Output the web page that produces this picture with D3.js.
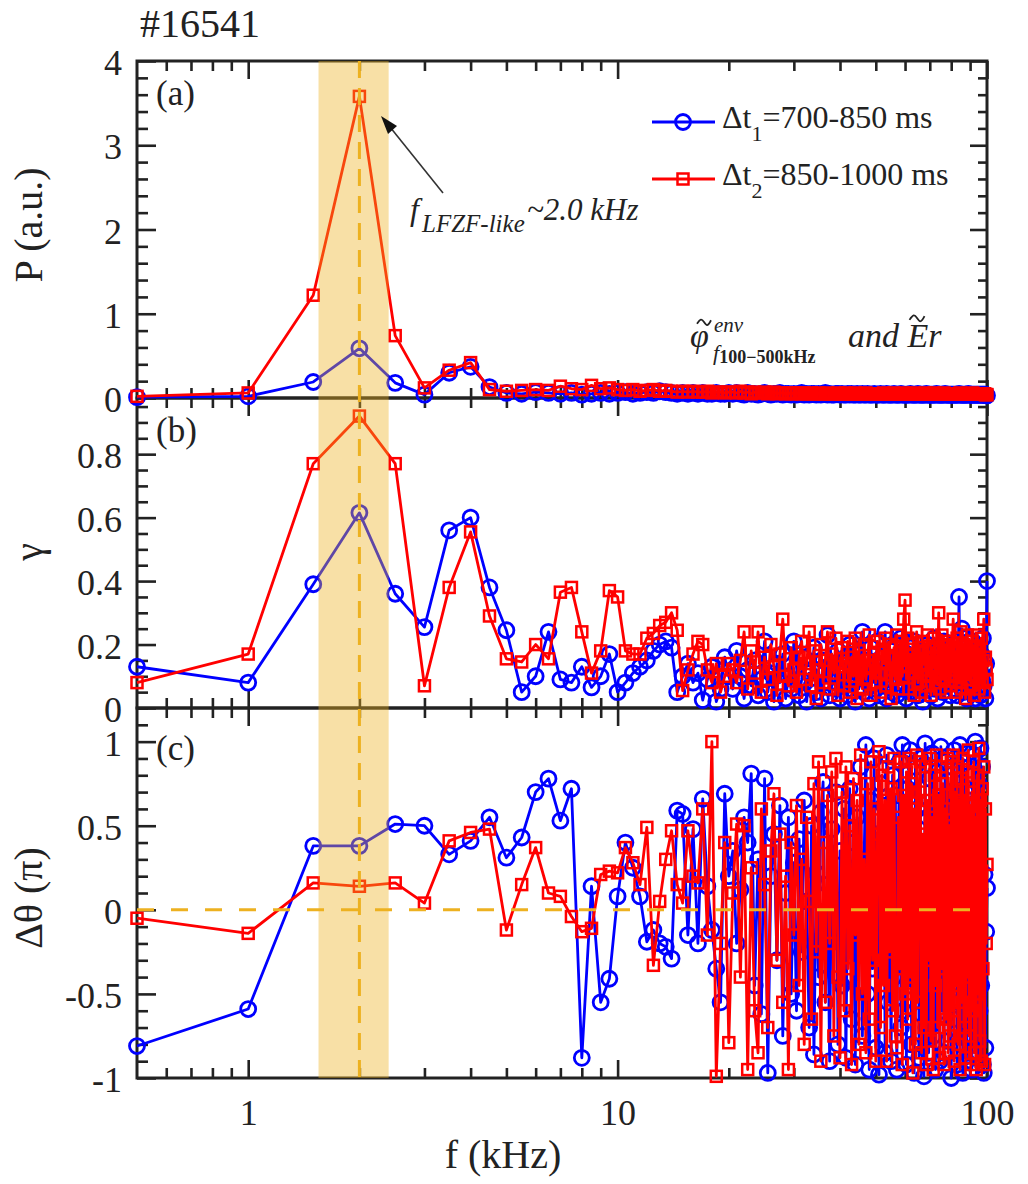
<!DOCTYPE html>
<html>
<head>
<meta charset="utf-8">
<script src="https://cdn.jsdelivr.net/npm/d3@7"></script>
</head>
<body style="margin:0">
<div id="chart"></div>
<script>
// frequency grid (kHz)
const freq = [
0.5,1,1.5,2,2.5,3,3.5,4,4.5,5,5.5,6,6.5,7,7.5,8,8.5,9,9.5,10,
10.5,11,11.5,12,12.5,13,13.5,14,14.5,15,15.5,16,16.5,17,17.5,18,18.5,19,19.5,20,
20.5,21,21.5,22,22.5,23,23.5,24,24.5,25,25.5,26,26.5,27,27.5,28,28.5,29,29.5,30,
30.5,31,31.5,32,32.5,33,33.5,34,34.5,35,35.5,36,36.5,37,37.5,38,38.5,39,39.5,40,
40.5,41,41.5,42,42.5,43,43.5,44,44.5,45,45.5,46,46.5,47,47.5,48,48.5,49,49.5,50,
50.5,51,51.5,52,52.5,53,53.5,54,54.5,55,55.5,56,56.5,57,57.5,58,58.5,59,59.5,60,
60.5,61,61.5,62,62.5,63,63.5,64,64.5,65,65.5,66,66.5,67,67.5,68,68.5,69,69.5,70,
70.5,71,71.5,72,72.5,73,73.5,74,74.5,75,75.5,76,76.5,77,77.5,78,78.5,79,79.5,80,
80.5,81,81.5,82,82.5,83,83.5,84,84.5,85,85.5,86,86.5,87,87.5,88,88.5,89,89.5,90,
90.5,91,91.5,92,92.5,93,93.5,94,94.5,95,95.5,96,96.5,97,97.5,98,98.5,99,99.5,100];

// (a) power, dt1 (blue) and dt2 (red)
const pBlue = [
0.01,0.02,0.19,0.59,0.18,0.04,0.30,0.37,0.13,0.06,0.05,0.07,0.06,0.05,0.06,0.04,0.05,0.06,0.05,0.06,
0.07,0.05,0.06,0.07,0.06,0.08,0.07,0.06,0.05,0.06,0.05,0.06,0.05,0.06,0.05,0.05,0.06,0.05,0.05,0.06,
0.05,0.06,0.05,0.04,0.06,0.05,0.05,0.04,0.05,0.06,0.05,0.04,0.05,0.05,0.06,0.04,0.05,0.05,0.04,0.05,
0.04,0.05,0.06,0.04,0.05,0.04,0.05,0.05,0.04,0.05,0.04,0.05,0.06,0.04,0.05,0.04,0.04,0.05,0.05,0.04,
0.05,0.04,0.04,0.05,0.04,0.05,0.04,0.04,0.05,0.04,0.04,0.05,0.04,0.04,0.05,0.04,0.04,0.04,0.05,0.04,
0.04,0.04,0.05,0.04,0.04,0.04,0.05,0.04,0.04,0.04,0.04,0.05,0.04,0.04,0.04,0.04,0.05,0.04,0.04,0.04,
0.04,0.04,0.04,0.05,0.04,0.04,0.04,0.04,0.04,0.05,0.04,0.04,0.04,0.04,0.04,0.04,0.05,0.04,0.04,0.04,
0.04,0.04,0.04,0.04,0.04,0.05,0.04,0.04,0.04,0.04,0.04,0.04,0.04,0.05,0.04,0.04,0.04,0.04,0.04,0.04,
0.04,0.04,0.04,0.04,0.04,0.04,0.04,0.05,0.04,0.04,0.04,0.04,0.04,0.04,0.04,0.04,0.04,0.05,0.04,0.04,
0.04,0.04,0.04,0.04,0.04,0.04,0.04,0.04,0.04,0.04,0.04,0.04,0.04,0.04,0.04,0.04,0.04,0.04,0.03,0.03];
const pRed = [
0.02,0.06,1.22,3.58,0.74,0.12,0.33,0.42,0.10,0.08,0.09,0.10,0.09,0.14,0.11,0.10,0.15,0.11,0.12,0.10,
0.09,0.10,0.08,0.09,0.10,0.08,0.09,0.08,0.07,0.08,0.07,0.08,0.07,0.07,0.08,0.06,0.07,0.07,0.06,0.07,
0.07,0.06,0.08,0.06,0.07,0.05,0.07,0.06,0.06,0.07,0.05,0.06,0.07,0.05,0.06,0.06,0.05,0.06,0.05,0.06,
0.05,0.06,0.05,0.06,0.05,0.05,0.06,0.05,0.05,0.06,0.05,0.05,0.05,0.06,0.05,0.05,0.05,0.05,0.06,0.05,
0.05,0.05,0.06,0.05,0.05,0.05,0.05,0.06,0.05,0.05,0.05,0.05,0.05,0.06,0.05,0.05,0.05,0.05,0.05,0.05,
0.05,0.05,0.05,0.05,0.06,0.05,0.05,0.05,0.05,0.05,0.05,0.06,0.05,0.05,0.05,0.05,0.05,0.05,0.05,0.06,
0.05,0.05,0.05,0.05,0.05,0.05,0.06,0.05,0.05,0.05,0.05,0.05,0.05,0.05,0.05,0.06,0.05,0.05,0.05,0.05,
0.05,0.05,0.05,0.06,0.05,0.05,0.05,0.05,0.05,0.05,0.05,0.05,0.06,0.05,0.05,0.05,0.05,0.05,0.05,0.05,
0.05,0.05,0.05,0.05,0.05,0.05,0.05,0.05,0.06,0.05,0.05,0.05,0.05,0.05,0.05,0.05,0.05,0.05,0.05,0.05,
0.05,0.05,0.06,0.05,0.05,0.05,0.05,0.05,0.05,0.05,0.05,0.05,0.05,0.05,0.05,0.05,0.05,0.04,0.04,0.04];

// (b) coherence gamma
const gBlue = [
0.13,0.08,0.39,0.615,0.36,0.255,0.56,0.60,0.38,0.245,0.05,0.10,0.24,0.09,0.08,0.13,0.065,0.10,0.17,0.05,
0.08,0.11,0.13,0.15,0.18,0.20,0.21,0.19,0.05,0.10,0.14,0.08,0.11,0.025,0.09,0.13,0.02,0.06,0.16,0.10,
0.06,0.18,0.10,0.03,0.12,0.07,0.15,0.04,0.09,0.21,0.05,0.11,0.02,0.14,0.08,0.17,0.03,0.10,0.06,0.21,
0.13,0.04,0.09,0.16,0.02,0.11,0.07,0.19,0.05,0.12,0.03,0.15,0.08,0.23,0.04,0.10,0.14,0.06,0.18,0.03,
0.11,0.07,0.16,0.04,0.20,0.09,0.13,0.02,0.17,0.06,0.12,0.24,0.05,0.10,0.15,0.03,0.19,0.08,0.14,0.06,
0.21,0.04,0.11,0.16,0.07,0.24,0.03,0.13,0.09,0.18,0.05,0.12,0.20,0.04,0.15,0.08,0.22,0.06,0.11,0.17,
0.03,0.14,0.09,0.19,0.05,0.12,0.21,0.07,0.16,0.04,0.13,0.08,0.18,0.02,0.11,0.15,0.06,0.20,0.09,0.13,
0.04,0.17,0.10,0.22,0.06,0.14,0.03,0.19,0.08,0.12,0.16,0.05,0.21,0.09,0.14,0.07,0.18,0.11,0.04,0.15,
0.09,0.20,0.06,0.13,0.17,0.04,0.11,0.35,0.08,0.19,0.25,0.05,0.14,0.10,0.22,0.03,0.16,0.12,0.07,0.18,
0.05,0.13,0.21,0.08,0.16,0.03,0.12,0.19,0.06,0.14,0.10,0.04,0.17,0.09,0.22,0.07,0.13,0.03,0.14,0.40];
const gRed = [
0.08,0.17,0.77,0.92,0.77,0.07,0.38,0.555,0.29,0.155,0.145,0.20,0.155,0.365,0.38,0.24,0.11,0.18,0.37,0.35,
0.18,0.17,0.17,0.22,0.235,0.26,0.27,0.30,0.245,0.055,0.12,0.17,0.21,0.20,0.12,0.08,0.14,0.05,0.10,0.14,
0.12,0.08,0.15,0.24,0.06,0.18,0.11,0.24,0.05,0.16,0.09,0.20,0.13,0.04,0.17,0.28,0.10,0.07,0.19,0.12,
0.05,0.16,0.21,0.09,0.14,0.24,0.07,0.18,0.03,0.12,0.20,0.08,0.15,0.24,0.06,0.17,0.11,0.22,0.04,0.13,
0.19,0.07,0.14,0.21,0.05,0.16,0.10,0.22,0.03,0.18,0.12,0.06,0.20,0.09,0.15,0.23,0.04,0.13,0.17,0.08,
0.21,0.11,0.05,0.18,0.14,0.22,0.07,0.16,0.20,0.03,0.12,0.19,0.09,0.23,0.06,0.15,0.21,0.10,0.28,0.34,
0.13,0.22,0.06,0.17,0.11,0.20,0.04,0.15,0.24,0.08,0.19,0.12,0.05,0.21,0.14,0.18,0.07,0.23,0.10,0.16,
0.04,0.19,0.13,0.22,0.08,0.16,0.11,0.30,0.06,0.18,0.23,0.09,0.14,0.20,0.05,0.17,0.12,0.21,0.07,0.15,
0.19,0.28,0.10,0.16,0.05,0.22,0.13,0.08,0.18,0.24,0.06,0.15,0.20,0.11,0.03,0.17,0.23,0.09,0.14,0.19,
0.07,0.21,0.12,0.17,0.04,0.19,0.10,0.23,0.14,0.06,0.18,0.11,0.22,0.08,0.15,0.28,0.05,0.16,0.12,0.09];

// (c) cross phase, in units of pi
const dBlue = [
-0.81,-0.59,0.38,0.38,0.51,0.50,0.33,0.41,0.55,0.31,0.43,0.70,0.78,0.53,0.72,-0.88,0.14,-0.55,-0.41,0.08,
0.40,0.25,0.08,-0.19,-0.12,-0.20,-0.22,-0.29,0.59,0.57,-0.15,0.48,-0.20,0.66,0.14,-0.12,-0.35,-0.55,0.69,0.20,
0.35,-0.20,0.12,0.55,0.40,0.81,-0.45,0.30,-0.62,0.78,-0.97,0.20,0.45,-0.30,0.62,-0.75,0.10,0.55,-0.50,0.28,
-0.60,0.42,-0.25,0.65,0.05,-0.70,0.50,-0.86,0.22,-0.40,0.58,0.76,-0.55,0.15,-0.90,0.48,-0.15,0.70,-0.80,0.35,
-0.45,0.60,-0.88,0.25,0.72,-0.65,0.40,-0.92,0.55,-0.10,0.85,-0.75,0.30,0.98,-0.50,-0.95,0.65,-0.35,0.90,-0.82,
0.45,-0.98,0.75,-0.30,0.62,-0.85,0.92,-0.55,0.20,-0.90,0.80,-0.40,0.68,-0.95,0.35,0.88,-0.70,0.98,-0.60,0.50,
-0.92,0.72,-0.45,0.95,-0.80,0.30,-0.97,0.85,-0.25,0.60,-0.88,0.90,-0.62,0.40,-0.99,0.99,-0.70,0.55,-0.85,0.78,
-0.50,0.93,-0.75,0.25,-0.95,0.82,-0.35,0.65,-0.90,0.97,-0.60,0.45,-0.85,0.88,-0.20,0.91,-0.78,0.70,-0.45,-1.0,
0.85,-0.65,0.95,-0.30,0.60,-0.92,0.75,-0.55,0.98,-0.80,0.40,-0.97,0.88,-0.15,0.70,-0.90,0.93,-0.50,0.65,-0.85,
0.55,-0.95,0.80,-0.40,0.92,1.0,-0.70,0.35,-0.88,0.75,-0.60,0.96,-0.45,0.85,-0.92,-0.97,0.21,-0.82,-0.13,0.13];
const dRed = [
-0.05,-0.14,0.16,0.14,0.16,0.04,0.41,0.46,0.48,-0.12,0.15,0.37,0.10,0.08,-0.04,-0.13,-0.11,0.21,0.23,0.22,
0.37,0.28,0.15,0.49,-0.33,0.05,0.30,0.47,0.15,0.04,0.47,0.20,0.16,0.60,-0.15,1.0,-0.99,-0.20,0.40,-0.79,
0.10,0.51,-0.40,0.50,-0.95,0.25,-0.60,-0.85,0.60,0.15,-0.70,0.35,0.69,-0.30,0.45,-0.55,0.20,-0.95,0.40,-0.15,
0.62,-0.45,0.30,-0.80,0.55,0.05,-0.65,0.75,-0.25,0.88,-0.90,0.40,-0.55,0.68,-0.20,0.82,-0.75,0.90,-0.40,-0.88,
0.70,-0.60,0.85,-0.35,0.50,-0.92,0.78,-0.15,0.65,-0.80,0.92,-0.50,0.30,-0.85,0.75,-0.65,0.88,-0.30,0.60,-0.90,
0.45,0.94,-0.70,0.80,-0.45,0.65,-0.90,0.85,-0.25,0.72,-0.60,0.90,-0.75,-0.82,0.55,-0.35,0.88,-0.92,0.68,-0.50,
0.82,-0.65,0.90,-0.40,0.75,-0.97,0.60,-0.80,0.92,-0.55,0.70,0.88,-0.85,0.45,-0.70,0.85,-0.92,0.65,-0.30,0.90,
-0.78,0.55,-0.95,0.80,-0.45,0.92,-0.70,0.68,-0.88,0.85,-0.35,0.75,-0.92,0.60,-0.65,0.90,-0.85,0.50,-0.75,0.88,
-0.60,0.92,-0.90,0.70,-0.45,0.85,-0.80,0.65,-0.95,0.78,-0.55,0.90,-0.70,0.58,-0.88,0.82,-0.40,0.95,-0.75,0.62,
-0.92,0.70,-0.60,0.88,-0.85,0.55,-0.95,0.80,-0.50,0.96,-0.78,0.65,-0.90,0.72,-0.35,0.85,-0.92,0.60,-0.20,0.27];

const xMajor = [1, 10, 100];
const xMinor = [0.6,0.7,0.8,0.9,2,3,4,5,6,7,8,9,20,30,40,50,60,70,80,90];
const legendLabels = [["1", "=700-850 ms"], ["2", "=850-1000 ms"]];
const blue = "#0000ff", red = "#ff0000", gold = "#EDB120", ink = "#222";
const FONT = "'Liberation Serif', serif";

const W = 1028, H = 1184;
const svg = d3.select("#chart").append("svg").attr("width", W).attr("height", H);

// texts: serif face set on each element
function label(sel, px, py, size, str) {
  return sel.append("text").attr("x", px).attr("y", py)
    .attr("font-family", FONT).attr("font-size", size).attr("fill", ink).text(str);
}

const x = d3.scaleLog().domain([0.5, 100]).range([137, 987]);

const panels = [
  {tag: "(a)", top: 61, bottom: 398, domain: [0, 4], major: [0, 1, 2, 3, 4], step: 0.2,
   blue: pBlue, red: pRed, tagY: 105, ylab: "P (a.u.)", ylabY: 225},
  {tag: "(b)", top: 398, bottom: 708, domain: [0, 0.977], major: [0, 0.2, 0.4, 0.6, 0.8], step: 0.05,
   blue: gBlue, red: gRed, tagY: 442, ylab: "\u03b3", ylabY: 552},
  {tag: "(c)", top: 708, bottom: 1078, domain: [-1, 1.2], major: [-1, -0.5, 0, 0.5, 1], step: 0.1,
   blue: dBlue, red: dRed, tagY: 760, ylab: "\u0394\u03b8 (\u03c0)", ylabY: 898}
];
panels.forEach(p => { p.y = d3.scaleLinear().domain(p.domain).range([p.bottom, p.top]); });

function styleAxis(g) {
  g.attr("font-family", FONT).attr("font-size", 36);
  g.select(".domain").remove();
  g.selectAll(".tick line").attr("stroke", ink).attr("stroke-width", 2.6);
  g.selectAll(".tick text").attr("fill", ink).attr("font-family", FONT).attr("font-size", 36);
}

// axes: box + inward ticks on all four sides
panels.forEach((p, k) => {
  const isBottom = k === panels.length - 1;
  const g = svg.append("g");
  const yMinor = d3.range(Math.round(p.domain[0] / p.step), Math.floor(p.domain[1] / p.step + 1e-6) + 1)
    .map(i => +(i * p.step).toFixed(3))
    .filter(v => !p.major.some(m => Math.abs(m - v) < 1e-6));

  g.append("g").attr("transform", `translate(0,${p.bottom})`)
    .call(d3.axisBottom(x).tickValues(xMajor).tickSizeInner(-18).tickSizeOuter(0).tickPadding(21)
      .tickFormat(isBottom ? d3.format("d") : ""))
    .call(styleAxis);
  g.append("g").attr("transform", `translate(0,${p.bottom})`)
    .call(d3.axisBottom(x).tickValues(xMinor).tickSize(-10).tickFormat(""))
    .call(styleAxis);
  g.append("g").attr("transform", `translate(0,${p.top})`)
    .call(d3.axisTop(x).tickValues(xMajor).tickSize(-18).tickFormat(""))
    .call(styleAxis);
  g.append("g").attr("transform", `translate(0,${p.top})`)
    .call(d3.axisTop(x).tickValues(xMinor).tickSize(-10).tickFormat(""))
    .call(styleAxis);

  g.append("g").attr("transform", `translate(${x.range()[0]},0)`)
    .call(d3.axisLeft(p.y).tickValues(p.major).tickSizeInner(-19).tickSizeOuter(0).tickPadding(15)
      .tickFormat(d => String(d)))
    .call(styleAxis)
    .call(s => s.selectAll(".tick text").attr("dy", "0.38em"));
  g.append("g").attr("transform", `translate(${x.range()[0]},0)`)
    .call(d3.axisLeft(p.y).tickValues(yMinor).tickSize(-11).tickFormat(""))
    .call(styleAxis);
  g.append("g").attr("transform", `translate(${x.range()[1]},0)`)
    .call(d3.axisRight(p.y).tickValues(p.major).tickSize(-17).tickFormat(""))
    .call(styleAxis);
  g.append("g").attr("transform", `translate(${x.range()[1]},0)`)
    .call(d3.axisRight(p.y).tickValues(yMinor).tickSize(-9).tickFormat(""))
    .call(styleAxis);

  g.append("rect")
    .attr("x", x.range()[0]).attr("y", p.top)
    .attr("width", x.range()[1] - x.range()[0]).attr("height", p.bottom - p.top)
    .attr("fill", "none").attr("stroke", ink).attr("stroke-width", 3);

  // y label
  label(svg, 0, 0, 40, p.ylab)
    .attr("transform", `translate(28,${p.ylabY}) rotate(-90)`)
    .attr("text-anchor", "middle").attr("dy", "0.35em");

  // panel tag
  label(svg, 156, p.tagY, 35, p.tag);
});

// data: blue (dt1) first, red (dt2) on top
panels.forEach(p => {
  const line = d3.line().x(d => x(d[0])).y(d => p.y(d[1]));
  const bData = freq.map((f, i) => [f, p.blue[i]]);
  const rData = freq.map((f, i) => [f, p.red[i]]);

  svg.append("path").datum(bData).attr("d", line)
    .attr("fill", "none").attr("stroke", blue).attr("stroke-width", 2.8).attr("stroke-linejoin", "round");
  svg.append("g").selectAll("circle").data(bData).join("circle")
    .attr("cx", d => x(d[0])).attr("cy", d => p.y(d[1])).attr("r", 7.5)
    .attr("fill", "none").attr("stroke", blue).attr("stroke-width", 2.8);

  svg.append("path").datum(rData).attr("d", line)
    .attr("fill", "none").attr("stroke", red).attr("stroke-width", 2.8).attr("stroke-linejoin", "round");
  svg.append("g").selectAll("rect").data(rData).join("rect")
    .attr("x", d => x(d[0]) - 5.5).attr("y", d => p.y(d[1]) - 5.5)
    .attr("width", 11).attr("height", 11)
    .attr("fill", "none").attr("stroke", red).attr("stroke-width", 2.5);
});

// highlighted band around f_LFZF and dashed guides
const bandTop = panels[0].top, bandBottom = panels[2].bottom;
svg.append("rect")
  .attr("x", x(1.55)).attr("y", bandTop)
  .attr("width", x(2.4) - x(1.55)).attr("height", bandBottom - bandTop)
  .attr("fill", gold).attr("fill-opacity", 0.4);
svg.append("line")
  .attr("x1", x(2)).attr("x2", x(2)).attr("y1", bandTop).attr("y2", bandBottom)
  .attr("stroke", gold).attr("stroke-width", 3).attr("stroke-dasharray", "17,10");
svg.append("line")
  .attr("x1", x.range()[0]).attr("x2", x.range()[1])
  .attr("y1", panels[2].y(0)).attr("y2", panels[2].y(0))
  .attr("stroke", gold).attr("stroke-width", 3).attr("stroke-dasharray", "17,17");

// title and x label
label(svg, 140, 37, 40, "#16541");
label(svg, 503, 1168, 40, "f (kHz)").attr("text-anchor", "middle");

// legend
[blue, red].forEach((c, i) => {
  const ly = 122 + i * 57;
  svg.append("line").attr("x1", 652).attr("x2", 715).attr("y1", ly).attr("y2", ly)
    .attr("stroke", c).attr("stroke-width", 2.8);
  if (i === 0) {
    svg.append("circle").attr("cx", 683).attr("cy", ly).attr("r", 7.5)
      .attr("fill", "none").attr("stroke", c).attr("stroke-width", 2.8);
  } else {
    svg.append("rect").attr("x", 677.5).attr("y", ly - 5.5).attr("width", 11).attr("height", 11)
      .attr("fill", "none").attr("stroke", c).attr("stroke-width", 2.5);
  }
  const t = label(svg, 722, ly + 6, 32, null);
  t.append("tspan").text("\u0394t");
  t.append("tspan").attr("font-size", 22).attr("dy", 13).text(legendLabels[i][0]);
  t.append("tspan").attr("dy", -13).text(legendLabels[i][1]);
});

// annotation: f_LFZF-like ~2.0 kHz with arrow
label(svg, 410, 220, 32, "f").attr("font-style", "italic");
label(svg, 422, 232, 25, "LFZF-like").attr("font-style", "italic");
label(svg, 527, 220, 31, "~2.0 kHz").attr("font-style", "italic");
svg.append("line").attr("x1", 443).attr("y1", 193).attr("x2", 390).attr("y2", 127)
  .attr("stroke", "#333").attr("stroke-width", 1.6);
svg.append("path").attr("d", "M381,116 L397,126 L388,134 Z").attr("fill", "#111");

// annotation: phi env and Er, tildes drawn as small strokes
function tilde(cx, cy, w) {
  const h = w / 4;
  svg.append("path")
    .attr("d", `M${cx - w / 2},${cy + h / 2} C${cx - w / 4},${cy - h} ${cx - w / 6},${cy - h} ${cx},${cy}`
      + ` S${cx + w / 4},${cy + h * 1.5} ${cx + w / 2},${cy - h / 2}`)
    .attr("fill", "none").attr("stroke", ink).attr("stroke-width", 1.8);
}
label(svg, 690, 347, 34, "\u03c6").attr("font-style", "italic");
tilde(704, 322, 14);
label(svg, 714, 332, 21, "env").attr("font-style", "italic");
const sub = label(svg, 713, 360, 22, null).attr("font-style", "italic");
sub.append("tspan").text("f");
sub.append("tspan").attr("font-size", 18).attr("font-weight", "bold").attr("font-style", "normal")
  .attr("dy", 3).text("100\u2212500kHz");
label(svg, 848, 347, 34, "and Er").attr("font-style", "italic");
tilde(917, 318, 15);
</script>
</body>
</html>
